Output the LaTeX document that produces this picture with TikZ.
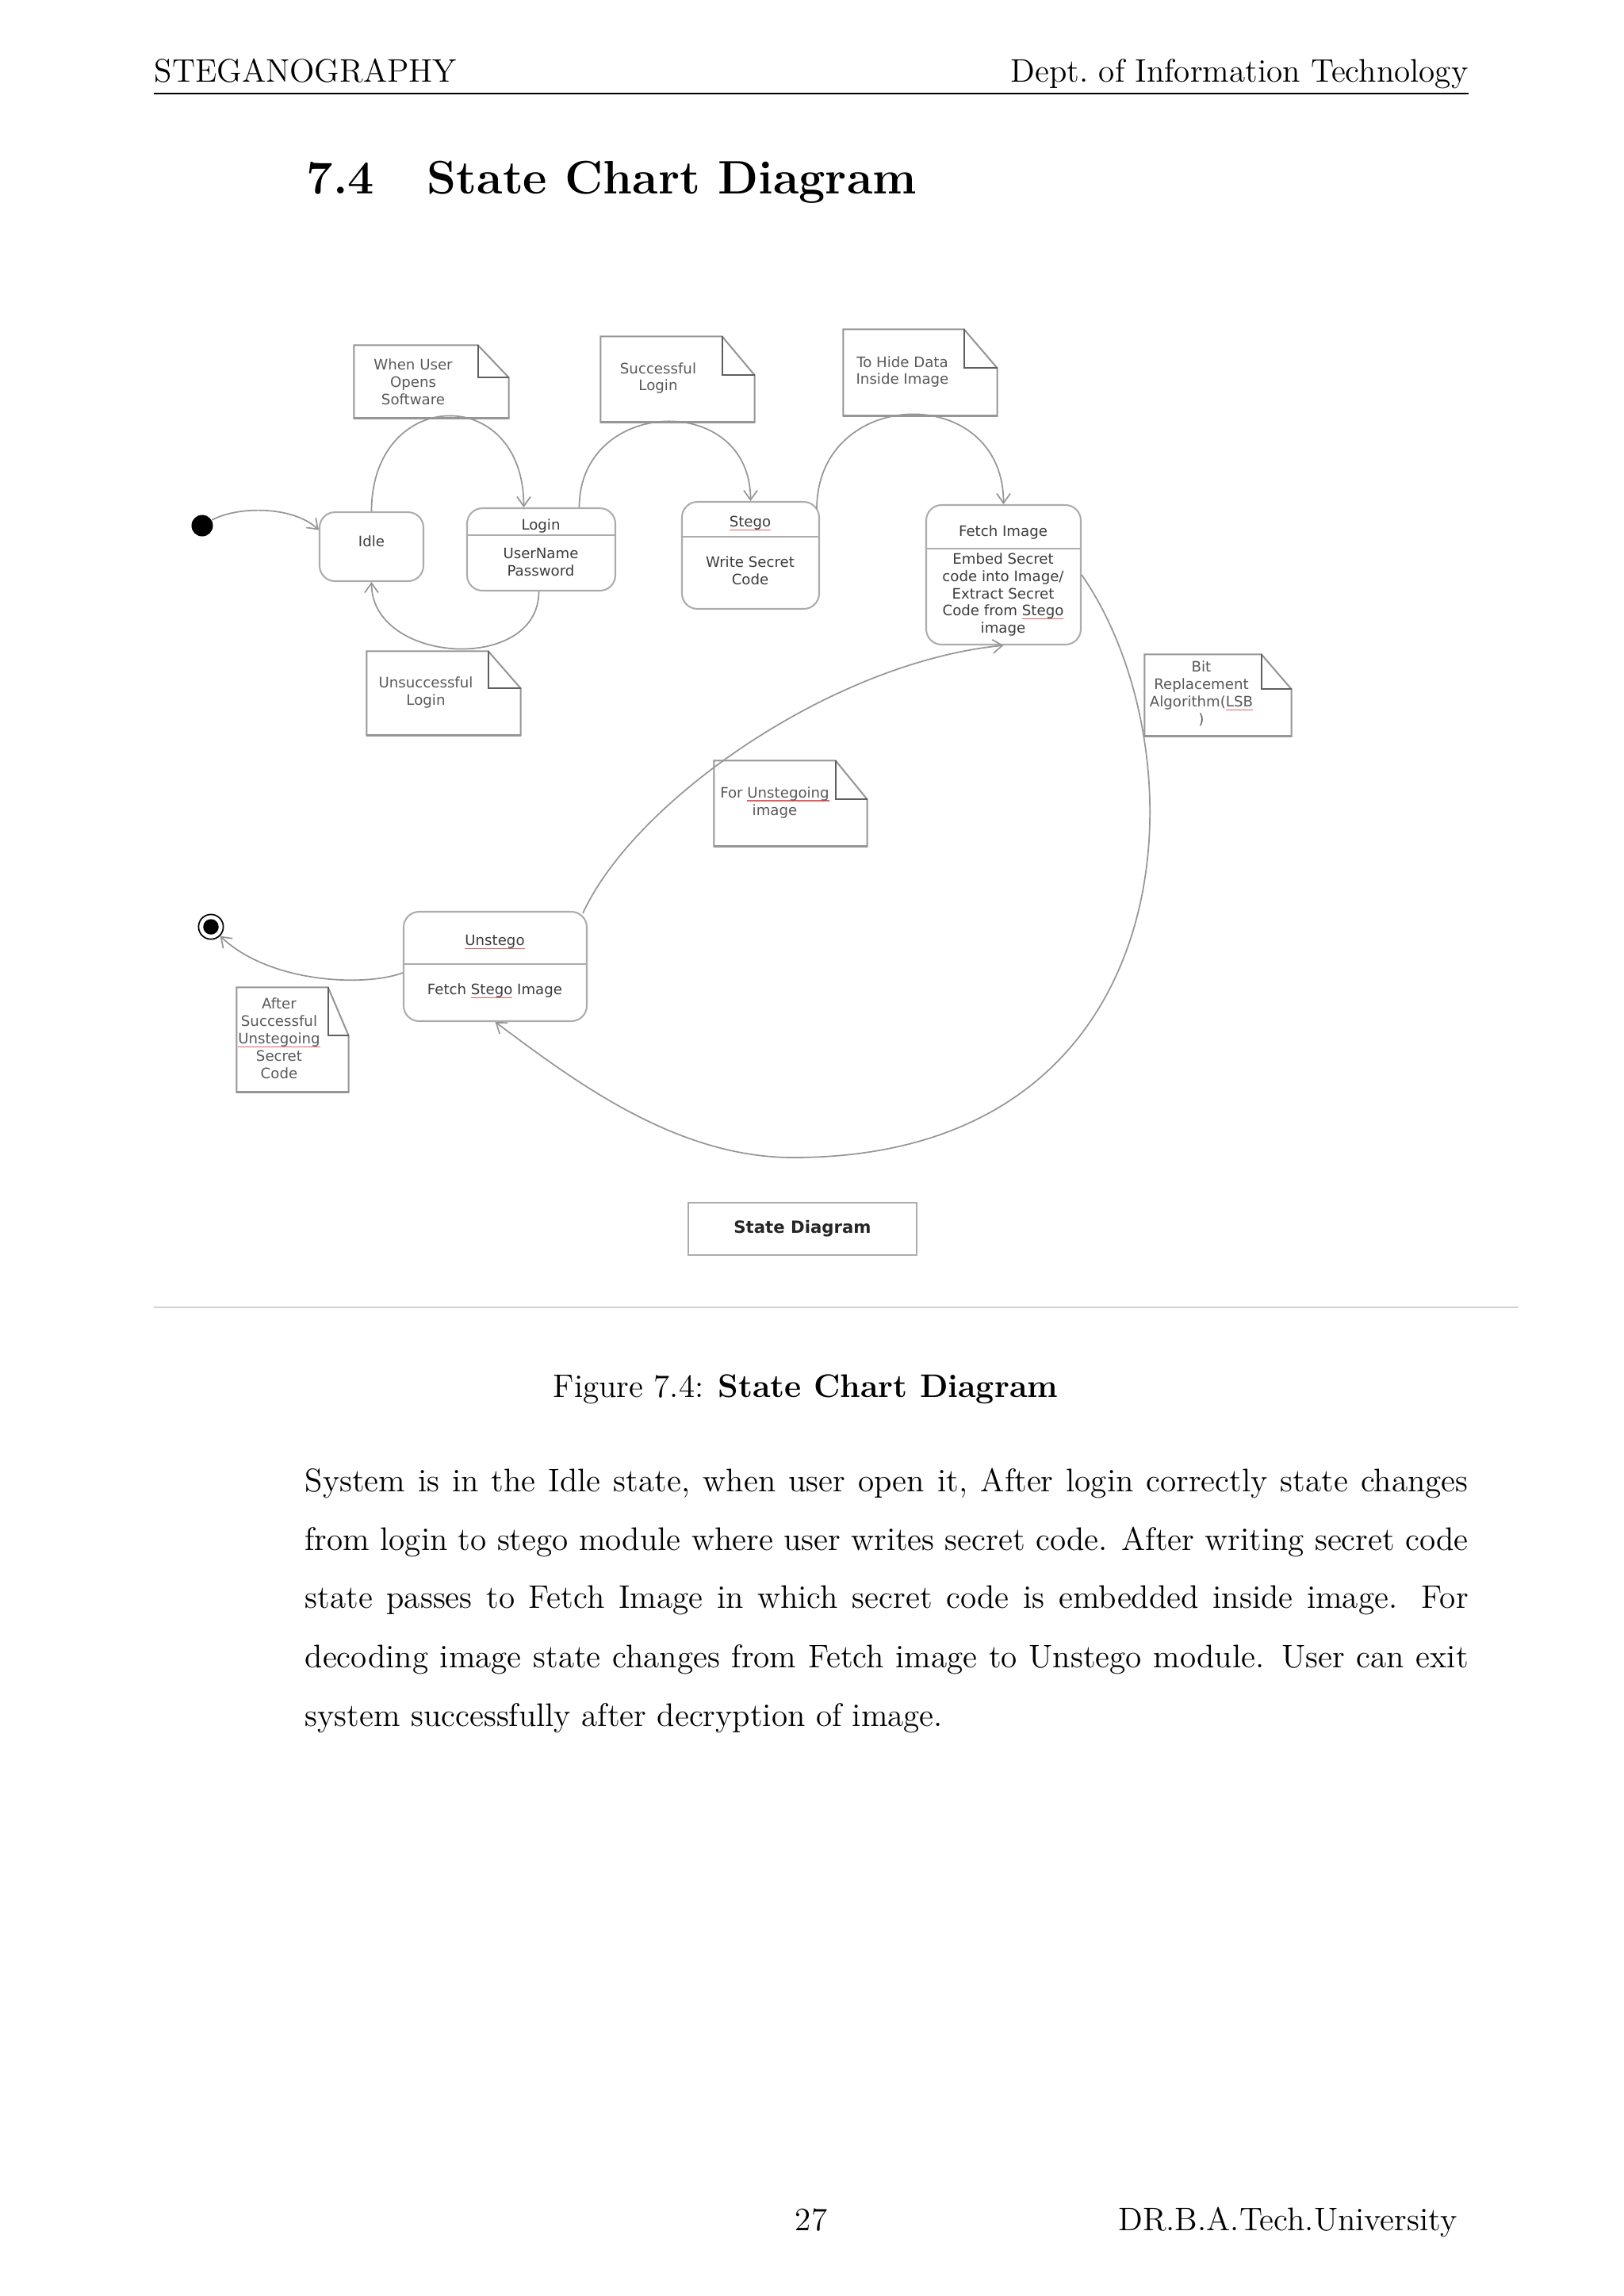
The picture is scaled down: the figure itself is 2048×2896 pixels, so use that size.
\documentclass[tikz,border=0pt]{standalone}
\usepackage{fontspec}
\usepackage{xcolor}
\usepackage{tikz}
\usetikzlibrary{arrows.meta,calc,fit}
\newfontfamily\diagfont{DejaVu Sans}
\definecolor{LineGray}{RGB}{150,150,150}
\definecolor{BoxGray}{RGB}{172,172,172}
\definecolor{NoteGray}{RGB}{150,150,150}
\definecolor{FoldGray}{RGB}{95,95,95}
\definecolor{TextGray}{RGB}{60,60,60}
\definecolor{SpellRed}{RGB}{225,95,95}
\definecolor{RuleGray}{RGB}{208,208,208}
\newcommand\diagsize{\diagfont\fontsize{5.3}{6.4}\selectfont}
\newcommand\pagesize{\fontsize{12}{14.5}\selectfont}
\newcommand\squig[1]{\setbox0\hbox{#1}\rlap{\color{SpellRed}\rule[-1.3pt]{\wd0}{0.3pt}}\box0\relax}
\newcommand\dogear[3]{%
  \draw[noteline] (#1.north west) -- ($(#1.north east)+(-#2,0)$) -- ($(#1.north east)+(0,#3)$)
    -- (#1.south east) -- (#1.south west) -- cycle;
  \draw[noteline,line width=0.9pt] (#1.south west) -- (#1.south east);
  \draw[noteline,draw=FoldGray] ($(#1.north east)+(-#2,0)$) |- ($(#1.north east)+(0,#3)$);}

\begin{document}
\begin{tikzpicture}[x=0.0102539cm,y=-0.0102539cm,>={Straight Barb[length=3.5pt,width=5pt]},
  statebox/.style={draw=BoxGray,line width=0.6pt,rounded corners=0.2cm,inner sep=0pt,
    font=\diagsize,text=TextGray},
  statetext/.style={align=center,inner sep=0pt,font=\diagsize,text=TextGray},
  notebox/.style={inner sep=0pt},
  noteline/.style={draw=NoteGray,line width=0.6pt},
  notetext/.style={align=center,inner sep=0pt,font=\diagsize,text=TextGray!85},
  trans/.style={draw=LineGray,line width=0.5pt,->},
  pagetext/.style={inner sep=0pt,font=\pagesize}]
  \fill[white] (0,0) rectangle (2048,2896);
  \useasboundingbox (0,0) rectangle (2048,2896);

  % running head and section title
  \node[pagetext,anchor=base west] (headl) at (194,103) {STEGANOGRAPHY};
  \node[pagetext,anchor=base east] (headr) at (1852,103) {Dept.\ of Information Technology};
  \draw[line width=0.4pt] (headl.west |- 0,118) -- (1852,118);
  \node[inner sep=0pt,anchor=base west,font=\fontsize{17.28}{22}\selectfont\bfseries] (secnum) at (386,244) {7.4};
  \node[inner sep=0pt,anchor=base west,font=\fontsize{17.28}{22}\selectfont\bfseries] (sectitle) at (538,244) {State Chart Diagram};

  % states
  \node[circle,fill=black,minimum size=0.277cm,inner sep=0pt] (start) at (255,663) {};
  \node[statebox,fit={(403,646) (534,733)}] (idle) {Idle};
  \node[statebox,fit={(589,641) (776,745)}] (login) {};
  \node[statebox,fit={(860,633) (1033,768)}] (stego) {};
  \node[statebox,fit={(1168,637) (1363,813)}] (fetch) {};
  \node[statebox,fit={(509,1150) (740,1288)}] (unstego) {};
  \node[circle,draw=black,line width=0.5pt,minimum size=0.32cm,inner sep=0pt] (final) at (266,1169) {};
  \fill (final) circle (0.1cm);

  \draw[draw=BoxGray,line width=0.6pt] ($(login.north west)+(0,35)$) -- ($(login.north east)+(0,35)$);
  \draw[draw=BoxGray,line width=0.6pt] ($(stego.north west)+(0,45)$) -- ($(stego.north east)+(0,45)$);
  \draw[draw=BoxGray,line width=0.6pt] ($(fetch.north west)+(0,56)$) -- ($(fetch.north east)+(0,56)$);
  \draw[draw=BoxGray,line width=0.6pt] ($(unstego.north west)+(0,67)$) -- ($(unstego.north east)+(0,67)$);

  \node[statetext] (loginname) at (682,663) {Login};
  \node[statetext] (logindo) at (682,709) {UserName\\Password};
  \node[statetext] (stegoname) at (946,660) {\squig{Stego}};
  \node[statetext] (stegodo) at (946,720) {Write Secret\\Code};
  \node[statetext] (fetchname) at (1265,671) {Fetch Image};
  \node[statetext] (fetchdo) at (1265,750) {Embed Secret\\code into Image/\\Extract Secret\\Code from \squig{Stego}\\image};
  \node[statetext] (unstegoname) at (624,1188) {\squig{Unstego}};
  \node[statetext] (unstegodo) at (624,1250) {Fetch \squig{Stego} Image};

  % notes
  \node[notebox,fit={(447,436) (641,527)}] (nopen) {};
  \dogear{nopen}{39}{41}
  \node[notetext] (nopentext) at (521,482) {When User\\Opens\\Software};
  \node[notebox,fit={(758,425) (951,532)}] (nsucc) {};
  \dogear{nsucc}{41}{49}
  \node[notetext] (nsucctext) at (830,477) {Successful\\Login};
  \node[notebox,fit={(1064,416) (1257,524)}] (nhide) {};
  \dogear{nhide}{42}{49}
  \node[notetext] (nhidetext) at (1138,469) {To Hide Data\\Inside Image};
  \node[notebox,fit={(463,822) (656,927)}] (nfail) {};
  \dogear{nfail}{41}{47}
  \node[notetext] (nfailtext) at (537,873) {Unsuccessful\\Login};
  \node[notebox,fit={(1444,826) (1628,928)}] (nlsb) {};
  \dogear{nlsb}{38}{44}
  \node[notetext] (nlsbtext) at (1515,875) {Bit\\Replacement\\Algorithm(\squig{LSB}\\)};
  \node[notebox,fit={(901,960) (1093,1067)}] (nunst) {};
  \dogear{nunst}{40}{49}
  \node[notetext] (nunsttext) at (977,1012) {For \squig{Unstegoing}\\image};
  \node[notebox,fit={(299,1246) (439,1377)}] (nexit) {};
  \dogear{nexit}{26}{61}
  \node[notetext] (nexittext) at (352,1310) {After\\Successful\\\squig{Unstegoing}\\Secret\\Code};

  % transitions
  \draw[trans] (start.30) .. controls (300,638) and (370,638) .. ($(idle.west)+(0,-21)$);
  \draw[trans] (idle.north) .. controls +(0,-157) and +(0,-157) .. ($(login.north)+(-22,0)$);
  \draw[trans] ($(login.south)+(-3,0)$) .. controls +(0,104) and +(0,104) .. (idle.south);
  \draw[trans] ($(login.north)+(48,0)$) .. controls +(0,-139) and +(0,-139) .. (stego.north);
  \draw[trans] ($(stego.north east)+(-4,10)$) .. controls +(0,-155) and +(0,-155) .. (fetch.north);
  \draw[trans] (fetch.east) .. controls (1520,950) and (1500,1460) .. (1000,1460)
    .. controls (850,1460) and (720,1360) .. (unstego.south);
  \draw[trans] ($(unstego.north east)+(-6,3)$) .. controls (800,1010) and (1050,835) .. (fetch.south);
  \draw[trans] ($(unstego.west)+(0,8)$) .. controls (460,1245) and (340,1240) .. (final.-45);

  \node[draw=BoxGray,line width=0.6pt,inner sep=0pt,fit={(868,1517) (1156,1583)}] (legend) {};
  \node[inner sep=0pt,font=\diagfont\fontsize{6.2}{7}\selectfont\bfseries,text=black!85] (legendtext) at (legend) {State Diagram};
  \draw[RuleGray,line width=0.6pt] (194,1649) -- (1915,1649);

  % caption and text
  \node[pagetext,anchor=base] (caption) at (1016,1762) {Figure 7.4: \textbf{State Chart Diagram}};
  \node[pagetext,anchor=base west] (line1) at (384,1881) {\makebox[15.043cm][s]{System is in the Idle state, when user open it, After login correctly state changes}};
  \node[pagetext,anchor=base west] (line2) at (384,1955) {\makebox[15.043cm][s]{from login to stego module where user writes secret code. After writing secret code}};
  \node[pagetext,anchor=base west] (line3) at (384,2028) {\makebox[15.043cm][s]{state passes to Fetch Image in which secret code is embedded inside image. For}};
  \node[pagetext,anchor=base west] (line4) at (384,2103) {\makebox[15.043cm][s]{decoding image state changes from Fetch image to Unstego module. User can exit}};
  \node[pagetext,anchor=base west] (line5) at (384,2177) {system successfully after decryption of image.};

  \node[pagetext,anchor=base] (pageno) at (1023,2813) {27};
  \node[pagetext,anchor=base east] (footr) at (1838,2813) {DR.B.A.Tech.University};
\end{tikzpicture}
\end{document}
